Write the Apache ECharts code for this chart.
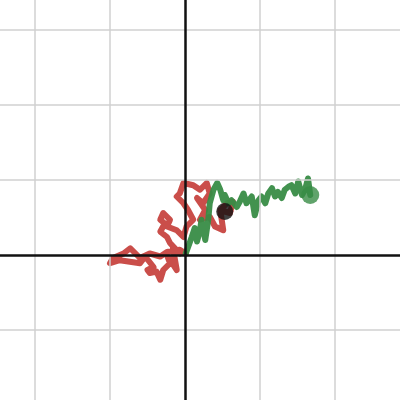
<!DOCTYPE html>
<html>
<head>
<meta charset="utf-8">
<script src="https://cdn.jsdelivr.net/npm/echarts@6/dist/echarts.min.js"></script>
<style>html,body{margin:0;padding:0;background:#fff}#chart{width:400px;height:400px}</style>
</head>
<body>
<div id="chart"></div>
<script>
// random walk, in grid units
const redX = [0.01,-0.07,-0.24,-0.33,-0.47,-0.6,-0.73,-0.82,-0.96,-1.0,-0.87,-0.6,-0.53,-0.42,-0.5,-0.47,-0.38,-0.33,-0.29,-0.2,-0.24,-0.11,-0.16,-0.07,-0.2,-0.24,-0.33,-0.27,-0.33,-0.29,-0.2,-0.24,-0.11,-0.02,0.02,0.11,0.04,-0.02,-0.11,-0.07,-0.02,0.11,0.2,0.29,0.33,0.24,0.16,0.27,0.2,0.33,0.4,0.51,0.47,0.56,0.64,0.6,0.53]
const redY = [0.02,0.07,0.04,-0.02,0.02,-0.04,0.09,0.02,-0.04,-0.11,-0.07,-0.11,-0.02,-0.16,-0.2,-0.24,-0.22,-0.33,-0.2,-0.11,0.0,-0.2,0.09,0.02,0.16,0.24,0.31,0.42,0.47,0.56,0.47,0.38,0.33,0.24,0.38,0.47,0.6,0.69,0.78,0.82,0.96,0.93,0.87,0.96,0.82,0.69,0.76,0.6,0.47,0.51,0.38,0.33,0.6,0.69,0.71,0.56,0.58]
const greenX = [0.01,0.09,0.13,0.16,0.2,0.22,0.27,0.31,0.33,0.38,0.43,0.47,0.51,0.53,0.58,0.62,0.69,0.73,0.78,0.82,0.89,0.93,0.98,1.02,1.07,1.11,1.16,1.2,1.24,1.29,1.33,1.38,1.42,1.47,1.51,1.56,1.6,1.64,1.67]
const greenY = [0.02,0.24,0.36,0.18,0.33,0.47,0.2,0.47,0.69,0.87,0.96,0.87,0.73,0.8,0.69,0.73,0.64,0.71,0.82,0.69,0.78,0.53,0.73,0.78,0.69,0.82,0.89,0.78,0.84,0.76,0.87,0.91,0.93,0.82,0.98,0.8,0.87,1.02,0.8]
const gridX = [-2, -1, 1, 2]
const gridY = [-1, 1, 2, 3]

const chart = echarts.init(document.getElementById('chart'))
const zip = (xs, ys) => xs.map((x, i) => [x, ys[i]])
const gridStyle = { color: '#d0d0d0', width: 1.5, type: 'solid' }
const axisStyle = { color: '#111', width: 2.5, type: 'solid' }
chart.setOption({
  animation: false,
  grid: { left: 0, right: 0, top: 0, bottom: 0 },
  xAxis: { type: 'value', min: -185 / 75, max: 215 / 75, show: false },
  yAxis: { type: 'value', min: -145 / 75, max: 255 / 75, show: false },
  series: [
    {
      type: 'line', data: [], silent: true,
      markLine: {
        symbol: 'none', label: { show: false }, silent: true,
        data: [
          ...gridX.map(v => ({ xAxis: v, lineStyle: gridStyle })),
          ...gridY.map(v => ({ yAxis: v, lineStyle: gridStyle })),
          { xAxis: 0, lineStyle: axisStyle },
          { yAxis: 0, lineStyle: axisStyle }
        ]
      }
    },
    {
      type: 'line', data: zip(redX, redY), showSymbol: false, z: 3,
      lineStyle: { color: '#c74440', width: 6, cap: 'round', join: 'round', opacity: 0.95 }
    },
    {
      type: 'line', data: zip(greenX, greenY), showSymbol: false, z: 4,
      lineStyle: { color: '#388c46', width: 6, cap: 'round', join: 'round', opacity: 0.95 }
    },
    {
      type: 'scatter', data: [[greenX[greenX.length - 1], greenY[greenY.length - 1]]], z: 5,
      symbolSize: 18, itemStyle: { color: '#388c46' }
    },
    {
      type: 'scatter', data: [[redX[redX.length - 1], redY[redY.length - 1]]], z: 6,
      symbolSize: 17, itemStyle: { color: '#111' }
    }
  ]
})
</script>
</body>
</html>
